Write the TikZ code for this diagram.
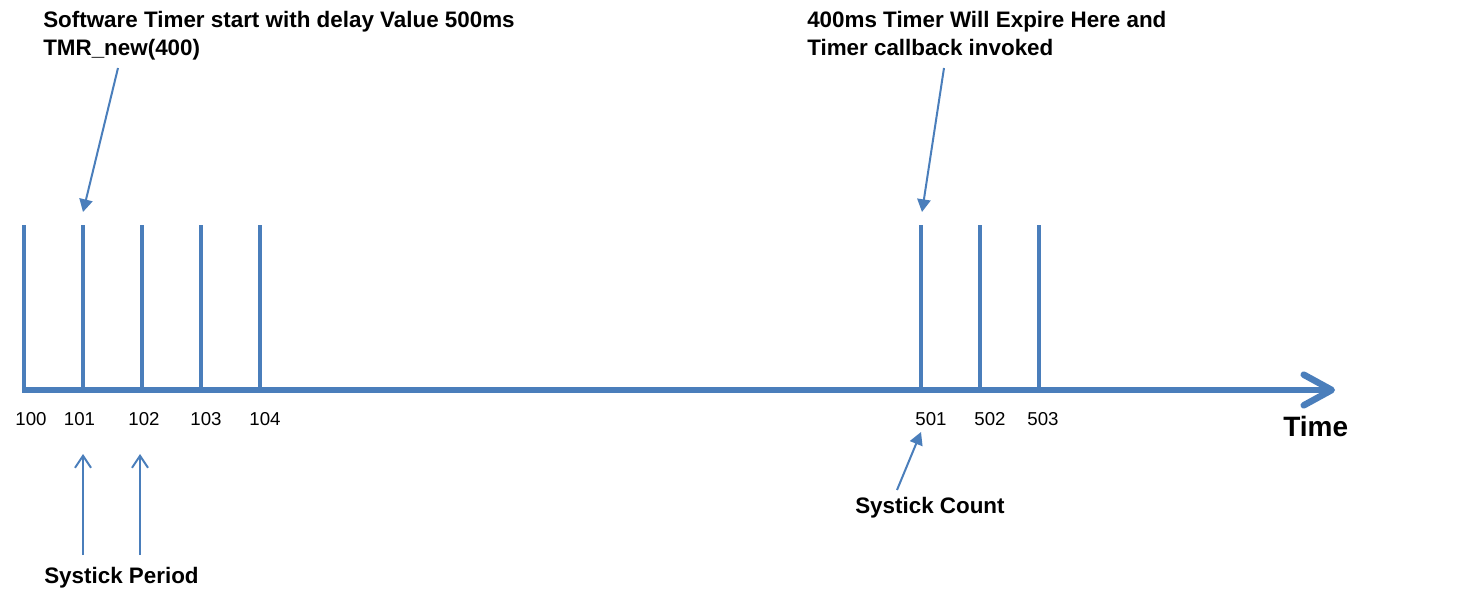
\documentclass[tikz,border=0pt]{standalone}
\usepackage{fontspec}
\setmainfont{Liberation Sans}
\usepackage{tikz}
\usetikzlibrary{arrows.meta}
\definecolor{tmblue}{RGB}{74,126,187}

\begin{document}
\begin{tikzpicture}[x=0.75pt,y=-0.75pt,
  every node/.style={inner sep=0pt,font=\fontsize{16.8}{21}\selectfont\bfseries},
  num/.style={font=\fontsize{14}{17}\selectfont},
  tickline/.style={draw=tmblue,line width=2.6pt},
  axis/.style={draw=tmblue,line width=4.9pt,-{Straight Barb[length=21pt,width=23pt,round]}},
  pointer/.style={draw=tmblue,line width=1.5pt,-{Triangle[length=9.5pt,width=10pt]}},
  upper/.style={draw=tmblue,line width=1.5pt,-{Straight Barb[length=9pt,width=12pt]}}]
  \useasboundingbox (0,0) rectangle (1457,602);

  % time axis with systick marks
  \coordinate (origin) at (22,390);
  \coordinate (tip) at (1335,390);
  \foreach \x/\lx/\n in {24/31/100,83/79.5/101,142/144/102,201/206/103,260/265/104,
                         921/931/501,980/990/502,1039/1043/503} {
    \coordinate (t\n) at (\x,390);
    \draw[tickline] (t\n) -- ++(0,-165);
    \node[num,anchor=base] (l\n) at (\lx,425) {\n};
  }
  \draw[axis] (origin) -- (tip);
  \node[anchor=base west,font=\fontsize{21}{25}\selectfont\bfseries] (time) at (1283,436) {Time};

  % notes (base anchor sits on the last line)
  \node[anchor=base west,align=left] (start) at (43,56)
    {Software Timer start with delay Value 500ms\\TMR\_new(400)};
  \node[anchor=base west,align=left] (expire) at (807,56)
    {400ms Timer Will Expire Here and\\Timer callback invoked};
  \node[anchor=base west] (period) at (44,583) {Systick Period};
  \node[anchor=base west] (count) at (855,513) {Systick Count};

  \coordinate (s1) at (118,68);  \coordinate (e1) at (83,212);
  \coordinate (s2) at (944,68);  \coordinate (e2) at (922,212);
  \coordinate (s3) at (83,555);  \coordinate (e3) at (83,454);
  \coordinate (s4) at (140,555); \coordinate (e4) at (140,454);
  \coordinate (s5) at (897,490); \coordinate (e5) at (921,432);

  \draw[pointer] (s1) -- (e1);
  \draw[pointer] (s2) -- (e2);
  \draw[upper] (s3) -- (e3);
  \draw[upper] (s4) -- (e4);
  \draw[pointer] (s5) -- (e5);
\end{tikzpicture}
\end{document}
